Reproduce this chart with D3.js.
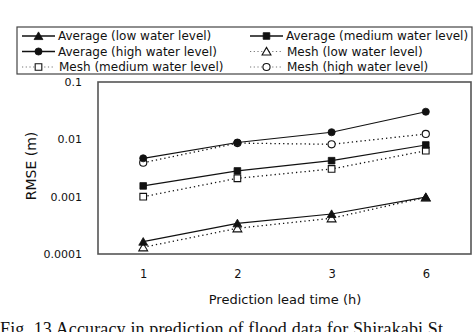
<!DOCTYPE html>
<html>
<head>
<meta charset="utf-8">
<script src="https://cdn.jsdelivr.net/npm/d3@7"></script>
<style>
  body { margin: 0; background: #fff; }
  svg { display: block; }
  text { fill: #111; }
</style>
</head>
<body>
<script>
// lead times on the x axis (categorical, not to scale)
var leadTimes = ["1", "2", "3", "6"];
var yTickValues = [0.0001, 0.001, 0.01, 0.1];
var yTickLabels = ["0.0001", "0.001", "0.01", "0.1"];

// RMSE (m) per lead time
var avgLow    = [0.000164, 0.000343, 0.000499, 0.00098];
var avgMedium = [0.00154, 0.00281, 0.00424, 0.00797];
var avgHigh   = [0.00467, 0.0088, 0.0133, 0.0303];
var meshLow    = [0.000131, 0.000281, 0.00042, 0.00097];
var meshMedium = [0.00100, 0.00209, 0.00304, 0.00634];
var meshHigh   = [0.00392, 0.0086, 0.00819, 0.0124];

var seriesNames = [
  "Average (low water level)", "Average (medium water level)",
  "Average (high water level)", "Mesh (low water level)",
  "Mesh (medium water level)", "Mesh (high water level)"
];

var W = 474, H = 332;
var svg = d3.select("body").append("svg").attr("width", W).attr("height", H);

var plot = {left: 98, top: 82, right: 471, bottom: 254};

var x = d3.scalePoint().domain(leadTimes).range([plot.left, plot.right]).padding(0.48);
var y = d3.scaleLog().domain([0.0001, 0.1]).range([plot.bottom, plot.top]);

var series = [
  {name: seriesNames[0], values: avgLow, shape: "triangle", filled: true, dotted: false},
  {name: seriesNames[1], values: avgMedium, shape: "square", filled: true, dotted: false},
  {name: seriesNames[2], values: avgHigh, shape: "circle", filled: true, dotted: false},
  {name: seriesNames[3], values: meshLow, shape: "triangle", filled: false, dotted: true},
  {name: seriesNames[4], values: meshMedium, shape: "square", filled: false, dotted: true},
  {name: seriesNames[5], values: meshHigh, shape: "circle", filled: false, dotted: true}
];

var font = "'DejaVu Sans', sans-serif";

function symbolFor(s) {
  var type = s.shape == "triangle" ? d3.symbolTriangle : s.shape == "square" ? d3.symbolSquare : d3.symbolCircle;
  var size = s.shape == "triangle" ? 34 : s.shape == "square" ? 44 : 40;
  return d3.symbol().type(type).size(size)();
}

function drawMarker(g, s, cx, cy) {
  g.append("path")
    .attr("d", symbolFor(s))
    .attr("transform", "translate(" + cx + "," + (cy + (s.shape == "triangle" ? 1 : 0)) + ")")
    .attr("fill", s.filled ? "#111" : "#fff")
    .attr("stroke", "#111")
    .attr("stroke-width", s.filled ? 0.8 : 1.1);
}

// plot frame
svg.append("rect")
  .attr("x", plot.left).attr("y", plot.top)
  .attr("width", plot.right - plot.left).attr("height", plot.bottom - plot.top)
  .attr("fill", "none").attr("stroke", "#555").attr("stroke-width", 1.6);

// y axis: labels only, no tick lines
var yAxis = d3.axisLeft(y).tickValues(yTickValues)
  .tickFormat(function(d, i) { return yTickLabels[i]; })
  .tickSize(0).tickPadding(16);
var gy = svg.append("g").attr("transform", "translate(" + plot.left + ",0)").call(yAxis);
gy.select(".domain").remove();
gy.selectAll("text").attr("font-family", font).attr("font-size", 11).attr("fill", "#222");

var xAxis = d3.axisBottom(x).tickSize(0).tickPadding(16);
var gx = svg.append("g").attr("transform", "translate(0," + plot.bottom + ")").call(xAxis);
gx.select(".domain").remove();
gx.selectAll("text").attr("font-family", font).attr("font-size", 11.5).attr("fill", "#222");

svg.append("text")
  .attr("transform", "translate(36,166) rotate(-90)")
  .attr("text-anchor", "middle")
  .attr("font-family", font).attr("font-size", 14)
  .text("RMSE (m)");

svg.append("text")
  .attr("x", 285).attr("y", 304)
  .attr("text-anchor", "middle")
  .attr("font-family", font).attr("font-size", 13)
  .text("Prediction lead time (h)");

// lines (mesh dotted) then markers
var line = d3.line()
  .x(function(d, i) { return x(leadTimes[i]); })
  .y(function(d) { return y(d); });

var drawOrder = [3, 4, 5, 0, 1, 2];
drawOrder.forEach(function(k) {
  var s = series[k];
  svg.append("path")
    .attr("d", line(s.values))
    .attr("fill", "none")
    .attr("stroke", "#111")
    .attr("stroke-width", s.dotted ? 1.3 : 1.2)
    .attr("stroke-dasharray", s.dotted ? "1.3,3" : null);
});
drawOrder.forEach(function(k) {
  var s = series[k];
  var g = svg.append("g");
  s.values.forEach(function(v, i) { drawMarker(g, s, x(leadTimes[i]), y(v)); });
});

// legend box
var legend = svg.append("g");
legend.append("rect")
  .attr("x", 17).attr("y", 27).attr("width", 455).attr("height", 47)
  .attr("fill", "#fff").attr("stroke", "#444").attr("stroke-width", 1.2);

// legend slots: [series index, column, row]
var slots = [[0, 0, 0], [1, 1, 0], [2, 0, 1], [3, 1, 1], [4, 0, 2], [5, 1, 2]];
var colX = [22, 250], rowY = [36, 51.5, 67];
slots.forEach(function(sl) {
  var s = series[sl[0]];
  var x0 = colX[sl[1]], cy = rowY[sl[2]];
  legend.append("line")
    .attr("x1", x0).attr("x2", x0 + 33).attr("y1", cy).attr("y2", cy)
    .attr("stroke", s.dotted ? "#777" : "#111")
    .attr("stroke-width", s.dotted ? 1.1 : 1.3)
    .attr("stroke-dasharray", s.dotted ? "1.2,2.5" : null);
  drawMarker(legend, s, x0 + 16.5, cy);
  legend.append("text")
    .attr("x", x0 + (s.dotted ? 37 : 36)).attr("y", cy + 4.3)
    .attr("font-family", font).attr("font-size", 12)
    .text(s.name);
});

// caption, cut off at the bottom edge
svg.append("text")
  .attr("x", 0).attr("y", 335)
  .attr("font-family", "'Liberation Serif', serif").attr("font-size", 18)
  .attr("textLength", 443).attr("lengthAdjust", "spacing")
  .text("Fig. 13  Accuracy in prediction of flood data for Shirakabi St");
</script>
</body>
</html>
